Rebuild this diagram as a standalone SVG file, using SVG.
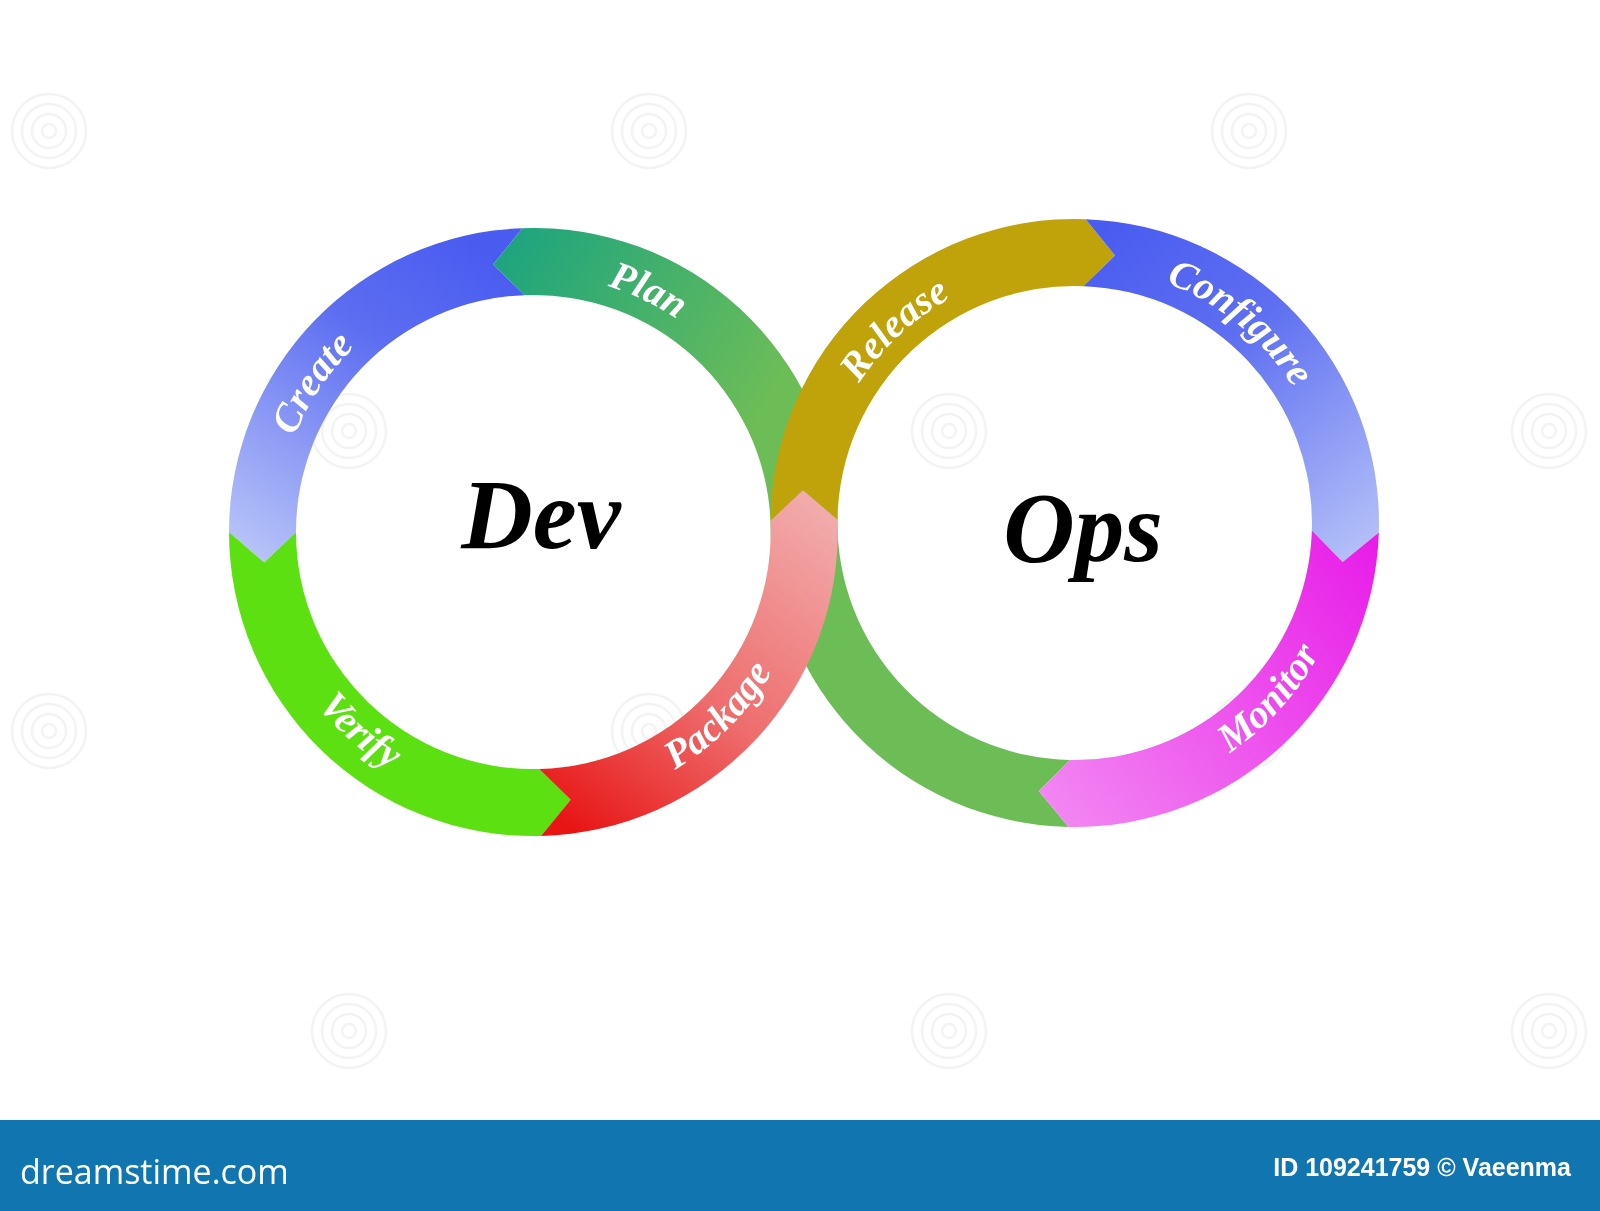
<svg xmlns="http://www.w3.org/2000/svg" width="1600" height="1211" viewBox="0 0 1600 1211">
<style>
.lbl{font-family:"Liberation Serif","Times New Roman",serif;font-style:italic;font-weight:bold;font-size:40px;fill:#ffffff}
.big{font-family:"Liberation Serif","Times New Roman",serif;font-style:italic;font-weight:bold;font-size:99px;fill:#000000;text-anchor:middle}
.wm{fill:none;stroke:#e2e2e2;stroke-width:2.5;opacity:0.4}
</style>
<defs>
<linearGradient id="gPlan" gradientUnits="userSpaceOnUse" x1="500" y1="260" x2="760" y2="420">
<stop offset="0" stop-color="#1ea57e"/><stop offset="1" stop-color="#6dbd56"/></linearGradient>
<linearGradient id="gCreate" gradientUnits="userSpaceOnUse" x1="470" y1="240" x2="250" y2="560">
<stop offset="0" stop-color="#4a5cf0"/><stop offset="0.35" stop-color="#5d6ef1"/><stop offset="1" stop-color="#b9c5f8"/></linearGradient>
<linearGradient id="gPackage" gradientUnits="userSpaceOnUse" x1="560" y1="820" x2="810" y2="500">
<stop offset="0" stop-color="#e81515"/><stop offset="0.45" stop-color="#ee6c6c"/><stop offset="1" stop-color="#f2abab"/></linearGradient>
<linearGradient id="gConfig" gradientUnits="userSpaceOnUse" x1="1100" y1="230" x2="1360" y2="560">
<stop offset="0" stop-color="#4a5cf0"/><stop offset="0.4" stop-color="#5e6ff1"/><stop offset="1" stop-color="#b6c2f8"/></linearGradient>
<linearGradient id="gMonitor" gradientUnits="userSpaceOnUse" x1="1370" y1="540" x2="1040" y2="800">
<stop offset="0" stop-color="#e81ee8"/><stop offset="1" stop-color="#f287f2"/></linearGradient>
<path id="tCreate" d="M277.41 558.86 A257 257 0 0 1 462.16 284.96"/>
<path id="tPlan" d="M468.65 283.19 A257 257 0 0 1 766.86 425.42"/>
<path id="tVerify" d="M259.41 575.33 A277 277 0 0 0 528.17 808.96"/>
<path id="tPackage" d="M558.59 807.82 A277 277 0 0 0 809.07 554.70"/>
<path id="tRelease" d="M819.92 491.68 A257 257 0 0 1 1061.55 266.35"/>
<path id="tConfig" d="M1072.76 266.01 A257 257 0 0 1 1327.70 476.17"/>
<path id="tMonitor" d="M1113.55 797.30 A277 277 0 0 0 1351.83 532.67"/>
<g id="spiral"><circle r="37"/><circle r="27"/><circle r="17"/><circle r="7"/></g>
</defs>
<rect width="1600" height="1211" fill="#ffffff"/>

<g id="watermarks" class="wm">
<use href="#spiral" x="49" y="131"/><use href="#spiral" x="649" y="131"/><use href="#spiral" x="1249" y="131"/>
<use href="#spiral" x="349" y="431"/><use href="#spiral" x="949" y="431"/><use href="#spiral" x="1549" y="431"/>
<use href="#spiral" x="49" y="731"/><use href="#spiral" x="649" y="731"/><use href="#spiral" x="1249" y="731"/>
<use href="#spiral" x="349" y="1031"/><use href="#spiral" x="949" y="1031"/><use href="#spiral" x="1549" y="1031"/>
</g>

<g id="connectors">
<path id="seg-plan" fill="url(#gPlan)" d="M522.39 228.19 A304 304 0 0 1 837.5 519.5 L770.5 520.5 A237 237 0 0 0 524.73 295.14 L493.02 264.47 Z"/>
<path id="seg-green" fill="#6dbd56" d="M1068.63 826.93 A304 304 0 0 1 770.5 520.5 L837.5 519.5 A237 237 0 0 0 1070.04 759.95 L1038.76 791.06 Z"/>
</g>

<g id="node-create">
<path fill="url(#gCreate)" d="M522.39 228.19 L493.02 264.47 L524.73 295.14 A237 237 0 0 0 296 532 L264.24 562.62 L229 532 A304 304 0 0 1 522.39 228.19 Z"/>
<text class="lbl"><textPath href="#tCreate" startOffset="50%" text-anchor="middle">Create</textPath></text>
</g>
<g id="node-verify">
<path fill="#5de011" d="M229 532 L264.24 562.62 L296 532 A237 237 0 0 0 539.20 768.92 L570.65 799.87 L540.96 835.90 A304 304 0 0 1 229 532 Z"/>
<text class="lbl"><textPath href="#tVerify" startOffset="50%" text-anchor="middle">Verify</textPath></text>
</g>
<g id="node-package">
<path fill="url(#gPackage)" d="M540.96 835.90 L570.65 799.87 L539.20 768.92 A237 237 0 0 0 770.5 520.5 L803 490 L837.5 519.5 A304 304 0 0 1 540.96 835.90 Z"/>
<text class="lbl"><textPath href="#tPackage" startOffset="50%" text-anchor="middle">Package</textPath></text>
</g>
<g id="node-release">
<path fill="#c0a30b" d="M770.5 520.5 A304 304 0 0 1 1085.61 219.19 L1114.98 255.47 L1083.27 286.14 A237 237 0 0 0 837.5 519.5 L803 490 Z"/>
<text class="lbl"><textPath href="#tRelease" startOffset="50%" text-anchor="middle">Release</textPath></text>
</g>
<g id="node-configure">
<path fill="url(#gConfig)" d="M1085.61 219.19 L1114.98 255.47 L1083.27 286.14 A237 237 0 0 1 1311.88 530.44 L1342.67 562.05 L1378.85 532.55 A304 304 0 0 0 1085.61 219.19 Z"/>
<text class="lbl"><textPath href="#tConfig" startOffset="50%" text-anchor="middle">Configure</textPath></text>
</g>
<g id="node-monitor">
<path fill="url(#gMonitor)" d="M1378.85 532.55 L1342.67 562.05 L1311.88 530.44 A237 237 0 0 1 1070.04 759.95 L1038.76 791.06 L1068.63 826.93 A304 304 0 0 0 1378.85 532.55 Z"/>
<text class="lbl"><textPath href="#tMonitor" startOffset="50%" text-anchor="middle">Monitor</textPath></text>
</g>
<g id="node-plan-label">
<text class="lbl"><textPath href="#tPlan" startOffset="50%" text-anchor="middle">Plan</textPath></text>
</g>

<g id="node-dev"><text class="big" x="541" y="548">Dev</text></g>
<g id="node-ops"><text class="big" x="1083" y="561">Ops</text></g>

<g id="footer">
<rect x="0" y="1120" width="1600" height="91" fill="#1176b0"/>
<text x="20" y="1184" font-family="'Open Sans','DejaVu Sans',sans-serif" font-size="34" fill="#ffffff">dreamstime.com</text>
<text x="1571" y="1176" font-family="'Liberation Sans',Arial,sans-serif" font-weight="bold" font-size="25" fill="#ffffff" text-anchor="end">ID 109241759 © Vaeenma</text>
</g>
</svg>
